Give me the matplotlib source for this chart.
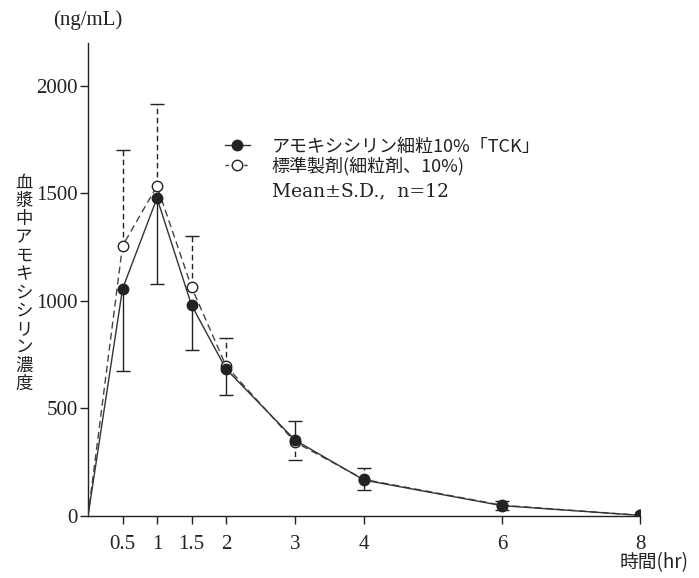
import numpy as np
import matplotlib
matplotlib.use("Agg")
from matplotlib import pyplot as plt

# sampling times (hr)
times = [0, 0.5, 1, 1.5, 2, 3, 4, 6, 8]

# アモキシシリン細粒10%「TCK」
tck_mean = [0, 1056, 1479, 981, 684, 353, 167, 48, 3]
tck_sd = [0, 382, 400, 209, 121, 89, 46, 23, 0]
tck_side = [0, -1, -1, -1, -1, 1, -1, 1, 0]   # which side of the S.D. is drawn

# 標準製剤(細粒剤、10%)
std_mean = [0, 1256, 1535, 1065, 698, 344, 170, 50, 3]
std_sd = [0, 446, 381, 237, 130, 84, 53, 23, 0]
std_side = [0, 1, 1, 1, 1, -1, 1, -1, 0]

xtick_vals = [0.5, 1, 1.5, 2, 3, 4, 6, 8]
xtick_labels = ["0.5", "1", "1.5", "2", "3", "4", "6", "8"]
ytick_vals = [0, 500, 1000, 1500, 2000]

ylabel_text = "血漿中アモキシシリン濃度"
jp = ["Noto Sans CJK JP", "DejaVu Sans"]
num_font = "Liberation Serif"
ink = "#222222"

fig = plt.figure(figsize=(6.99, 5.78), dpi=100)
ax = fig.add_axes([0.1259, 0.1073, 0.7897, 0.8183])

t = np.array(times)


def one_sided_err(mean, sd, side, ls, z):
    mean = np.array(mean, dtype=float)
    sd = np.array(sd, dtype=float)
    side = np.array(side)
    m = side != 0
    ends = mean[m] + side[m] * sd[m]
    ax.vlines(t[m], mean[m], ends, colors=ink, linestyles=ls, lw=1.0, zorder=z)
    ax.plot(t[m], ends, ls="none", marker="_", ms=10, mew=1.0, color=ink, zorder=z)


one_sided_err(std_mean, std_sd, std_side, (0, (4, 2.5)), 2)
one_sided_err(tck_mean, tck_sd, tck_side, "solid", 2)

# lines from the origin, markers from 0.5 hr onward
ax.plot(t, std_mean, color="#444444", lw=1.0, ls=(0, (5, 3)), zorder=3)
ax.plot(t, tck_mean, color="#333333", lw=1.0, zorder=3)
ax.plot(t[1:], np.array(std_mean)[1:], ls="none", marker="o", ms=7.5,
        mfc="white", mec=ink, mew=1.0, zorder=4)
ax.plot(t[1:], np.array(tck_mean)[1:], ls="none", marker="o", ms=7.5,
        mfc=ink, mec=ink, mew=1.0, zorder=5)

# legend drawn with proxy handles
h1, = ax.plot([], [], color="#333333", lw=1.0, marker="o", ms=7.5, mfc=ink, mec=ink)
h2, = ax.plot([], [], color="#444444", lw=1.0, ls=(0, (2.5, 2)), marker="o", ms=7.5,
              mfc="white", mec=ink)
leg = ax.legend([h1, h2], ["アモキシシリン細粒10%「TCK」", "標準製剤(細粒剤、10%)"],
                loc="upper left", bbox_to_anchor=(0.218, 0.834), frameon=False,
                handlelength=1.4, handletextpad=1.2, labelspacing=0.05,
                prop={"family": jp, "size": 13})
for txt in leg.get_texts():
    txt.set_color(ink)
ax.text(0.334, 0.687, "Mean±S.D.,  n=12", transform=ax.transAxes,
        fontsize=13.5, family="DejaVu Serif", color=ink, va="center", ha="left")

ax.set_xlim(0, 8)
ax.set_ylim(0, 2200)
ax.set_xticks(xtick_vals)
ax.set_xticklabels(xtick_labels)
ax.set_yticks(ytick_vals)
for lab in ax.get_xticklabels() + ax.get_yticklabels():
    lab.set_family(num_font)
    lab.set_fontsize(15)
    lab.set_color(ink)
ax.tick_params(direction="out", length=6, width=1.0, color=ink, pad=1.5)
ax.tick_params(axis="x", pad=8)

for side in ["top", "right"]:
    ax.spines[side].set_visible(False)
for side in ["left", "bottom"]:
    ax.spines[side].set_linewidth(1.0)
    ax.spines[side].set_color(ink)

# axis captions
fig.text(0.126, 0.965, "(ng/mL)", fontsize=15, family=num_font, color=ink,
         ha="center", va="center")
fig.text(0.985, 0.026, "時間(hr)", fontsize=13.5, family=jp, color=ink,
         ha="right", va="center")
fig.text(0.034, 0.51, "\n".join(ylabel_text), fontsize=12.5, family=jp,
         color=ink, ha="center", va="center", linespacing=1.02)

fig.savefig("out.png", dpi=100)
